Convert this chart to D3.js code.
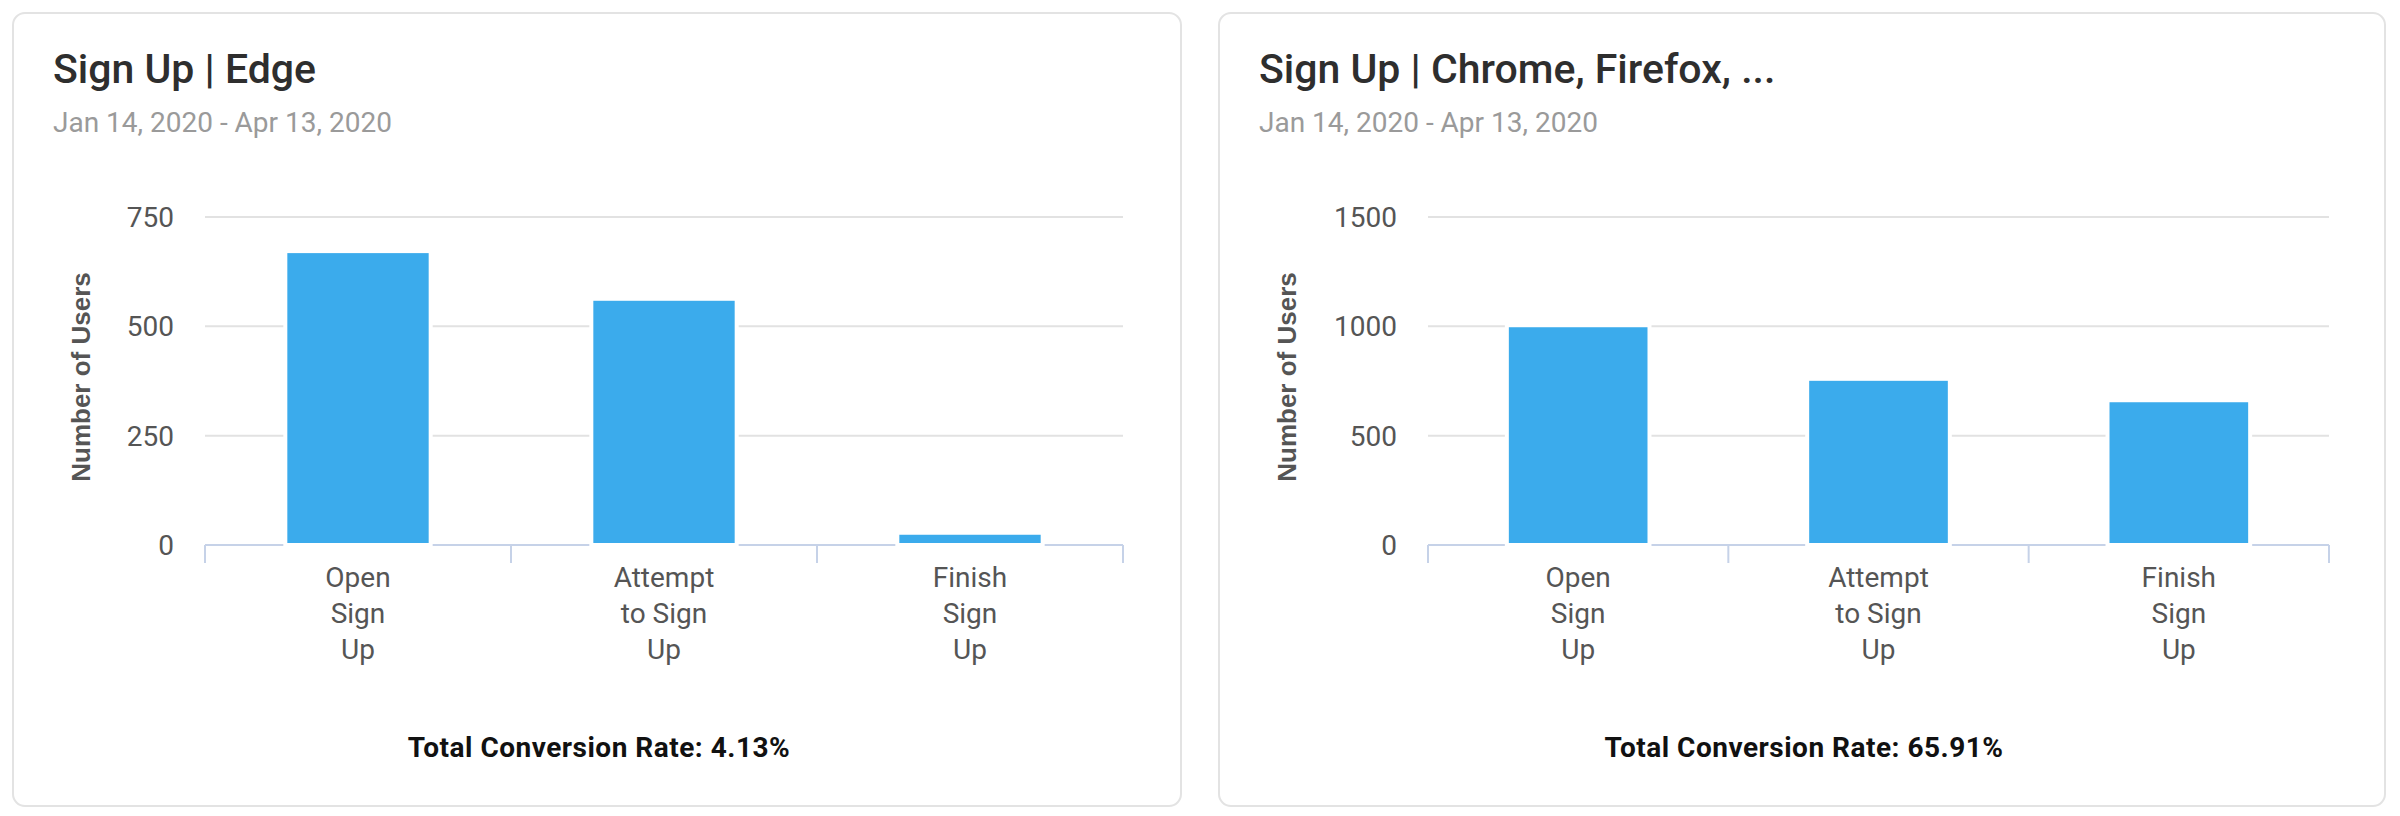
<!DOCTYPE html>
<html>
<head>
<meta charset="utf-8">
<script src="https://cdn.jsdelivr.net/npm/d3@7"></script>
<style>
  body { margin: 0; background: #fff; }
  svg { display: block; }
</style>
</head>
<body>
<svg id="chart"></svg>
<script>
const titles = ["Sign Up | Edge", "Sign Up | Chrome, Firefox, ..."];
const dateRange = "Jan 14, 2020 - Apr 13, 2020";
const steps = ["Open Sign Up", "Attempt to Sign Up", "Finish Sign Up"];
const stepLines = [["Open", "Sign", "Up"], ["Attempt", "to Sign", "Up"], ["Finish", "Sign", "Up"]];
const edgeUsers = [672, 563, 28];
const otherUsers = [1005, 760, 662];
const edgeTicks = [0, 250, 500, 750];
const otherTicks = [0, 500, 1000, 1500];
const conversionRates = ["4.13%", "65.91%"];

const W = 2400, H = 816;
const svg = d3.select("#chart").attr("width", W).attr("height", H);

const cards = [
  { x: 13, w: 1168, plotLeft: 192, values: edgeUsers, ticks: edgeTicks },
  { x: 1219, w: 1166, plotLeft: 209, values: otherUsers, ticks: otherTicks }
];

const blue = "#3BABEC";

cards.forEach((c, ci) => {
  const g = svg.append("g").attr("transform", `translate(${c.x}, 13)`);

  g.append("rect")
    .attr("x", 0).attr("y", 0)
    .attr("width", c.w).attr("height", 793)
    .attr("rx", 12)
    .attr("fill", "#fff")
    .attr("stroke", "#e3e3e3")
    .attr("stroke-width", 2);

  g.append("text")
    .attr("x", 40).attr("y", 70)
    .style("font-family", "Roboto, sans-serif")
    .style("font-weight", 500)
    .style("font-size", "41px")
    .attr("fill", "#2e2e2e")
    .text(titles[ci]);

  g.append("text")
    .attr("x", 40).attr("y", 119)
    .style("font-family", "Roboto, sans-serif")
    .style("font-size", "28px")
    .attr("fill", "#9a9a9a")
    .text(dateRange);

  const top = 204, bottom = 532;
  const left = c.plotLeft, right = 1110;

  const x = d3.scaleBand()
    .domain(steps)
    .range([left, right])
    .paddingInner(0.525)
    .paddingOuter(0.2625);

  const y = d3.scaleLinear()
    .domain([0, d3.max(c.ticks)])
    .range([bottom, top]);

  // gridlines
  g.append("g")
    .selectAll("line")
    .data(c.ticks.filter(t => t > 0))
    .enter()
    .append("line")
    .attr("x1", left).attr("x2", right)
    .attr("y1", d => y(d)).attr("y2", d => y(d))
    .attr("stroke", "#e2e2e2")
    .attr("stroke-width", 2);

  // y tick labels
  g.append("g")
    .selectAll("text")
    .data(c.ticks)
    .enter()
    .append("text")
    .attr("x", left - 31)
    .attr("y", d => y(d) + 10)
    .attr("text-anchor", "end")
    .style("font-family", "Roboto, sans-serif")
    .style("font-size", "28px")
    .attr("fill", "#555")
    .text(d => d);

  // y axis title
  g.append("text")
    .attr("transform", `translate(77, ${(top + bottom) / 2 - 4}) rotate(-90)`)
    .attr("text-anchor", "middle")
    .style("font-family", "'Liberation Sans', Arial, sans-serif")
    .style("font-weight", "bold")
    .style("font-size", "26px")
    .attr("fill", "#555")
    .text("Number of Users");

  // x axis line and boundary ticks
  const axisG = g.append("g");
  axisG.append("line")
    .attr("x1", left).attr("x2", right)
    .attr("y1", bottom).attr("y2", bottom)
    .attr("stroke", "#c6d2e8")
    .attr("stroke-width", 2);
  axisG.selectAll(".tick")
    .data(d3.range(steps.length + 1))
    .enter()
    .append("line")
    .attr("x1", i => left + i * x.step())
    .attr("x2", i => left + i * x.step())
    .attr("y1", bottom).attr("y2", bottom + 18)
    .attr("stroke", "#c6d2e8")
    .attr("stroke-width", 2);

  // bars
  g.append("g")
    .selectAll("rect")
    .data(c.values)
    .enter()
    .append("rect")
    .attr("x", (d, i) => x(steps[i]))
    .attr("y", d => y(d))
    .attr("width", x.bandwidth())
    .attr("height", d => y(0) - y(d))
    .attr("fill", blue)
    .attr("stroke", "#fff")
    .attr("stroke-width", 4);

  // category labels
  const labels = g.append("g")
    .selectAll("text")
    .data(steps)
    .enter()
    .append("text")
    .attr("text-anchor", "middle")
    .style("font-family", "Roboto, sans-serif")
    .style("font-size", "28px")
    .attr("fill", "#555");
  labels.each(function (d, i) {
    const cx = x(d) + x.bandwidth() / 2;
    d3.select(this)
      .selectAll("tspan")
      .data(stepLines[i])
      .enter()
      .append("tspan")
      .attr("x", cx)
      .attr("y", (l, j) => bottom + 42 + j * 36)
      .text(l => l);
  });

  g.append("text")
    .attr("x", c.w / 2 + 2)
    .attr("y", 744)
    .attr("text-anchor", "middle")
    .style("font-family", "Roboto, sans-serif")
    .style("font-weight", "bold")
    .style("font-size", "28px")
    .style("letter-spacing", "0.5px")
    .attr("fill", "#111")
    .text("Total Conversion Rate: " + conversionRates[ci]);
});
</script>
</body>
</html>
